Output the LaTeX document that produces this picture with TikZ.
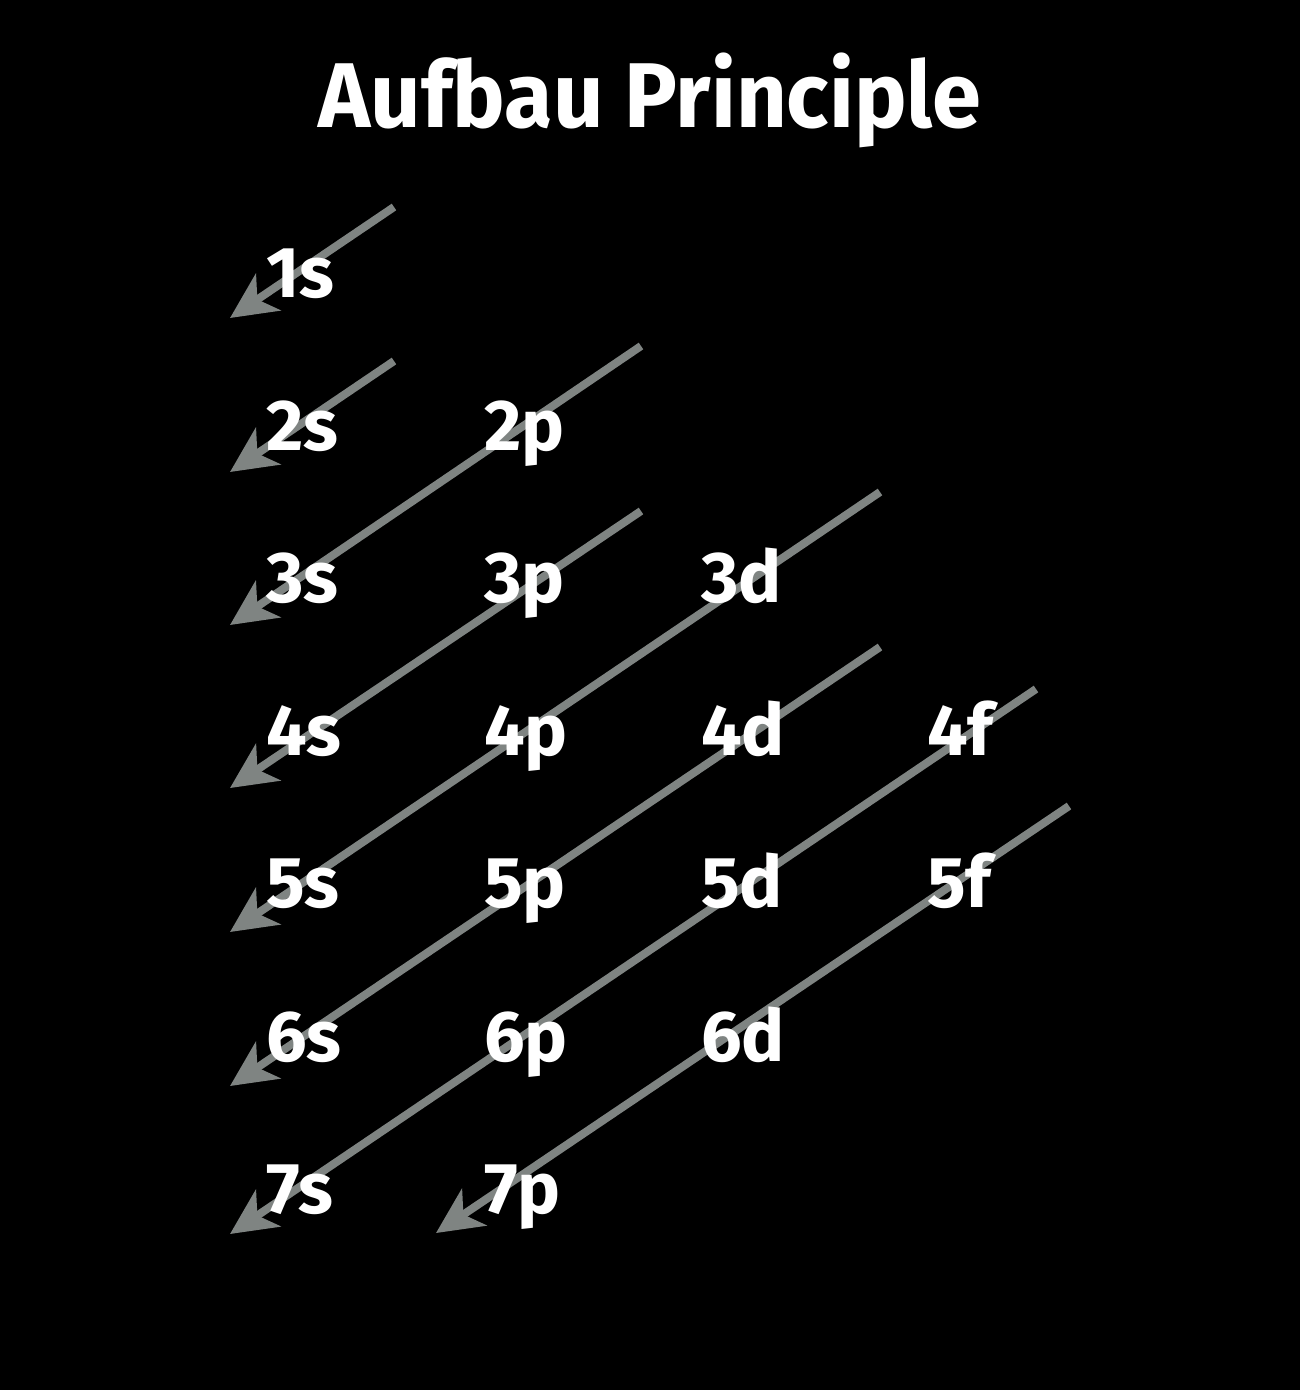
\documentclass[tikz,border=0pt]{standalone}
\usepackage{fontspec}
\setmainfont{Fira Sans}
\usetikzlibrary{arrows.meta}
\definecolor{arrowgray}{HTML}{7F8482}
\tikzset{
  orb/.style={text=white, font=\fontsize{72}{72}\selectfont\bfseries, anchor=base west, inner sep=0pt},
  diag/.style={draw=arrowgray, line width=8pt, -{Stealth[length=46pt,width=44pt,inset=13pt]}}
}
\begin{document}
\begin{tikzpicture}[x=1pt,y=-1pt]
\fill[black] (0,0) rectangle (1300,1390);
\useasboundingbox (0,0) rectangle (1300,1390);
% arrows
\coordinate (a1s) at (394,207); \coordinate (a1e) at (230,318);
\coordinate (a2s) at (394,361); \coordinate (a2e) at (230,472);
\coordinate (a3s) at (641,346); \coordinate (a3e) at (230,625);
\coordinate (a4s) at (641,511); \coordinate (a4e) at (230,788);
\coordinate (a5s) at (880,492); \coordinate (a5e) at (230,932);
\coordinate (a6s) at (880,647); \coordinate (a6e) at (230,1086);
\coordinate (a7s) at (1036,689); \coordinate (a7e) at (230,1234);
\coordinate (a8s) at (1069,806); \coordinate (a8e) at (436,1233);
\foreach \i in {1,...,8} \draw[diag] (a\i s) -- (a\i e);
% title
\node[text=white, font=\fontsize{92}{92}\selectfont\bfseries, inner sep=0pt, anchor=base, xscale=0.96] (title) at (650,127) {Aufbau Principle};
% labels
\node[orb] (n1s) at (266,297) {1s};
\node[orb] (n2s) at (266,450) {2s};
\node[orb] (n2p) at (484,450) {2p};
\node[orb] (n3s) at (266,602) {3s};
\node[orb] (n3p) at (484,602) {3p};
\node[orb] (n3d) at (701,602) {3d};
\node[orb] (n4s) at (266,755) {4s};
\node[orb] (n4p) at (484,755) {4p};
\node[orb] (n4d) at (701,755) {4d};
\node[orb] (n4f) at (927,755) {4f};
\node[orb] (n5s) at (266,907) {5s};
\node[orb] (n5p) at (484,907) {5p};
\node[orb] (n5d) at (701,907) {5d};
\node[orb] (n5f) at (927,907) {5f};
\node[orb] (n6s) at (266,1061) {6s};
\node[orb] (n6p) at (484,1061) {6p};
\node[orb] (n6d) at (701,1061) {6d};
\node[orb] (n7s) at (266,1213) {7s};
\node[orb] (n7p) at (484,1213) {7p};
\end{tikzpicture}
\end{document}
